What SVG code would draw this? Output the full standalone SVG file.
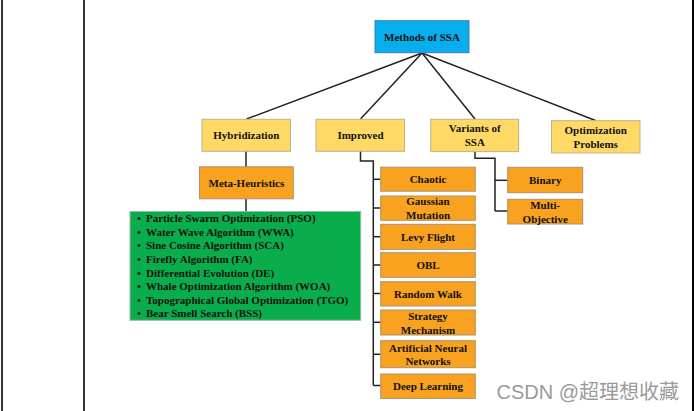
<svg xmlns="http://www.w3.org/2000/svg" width="694" height="411" viewBox="0 0 694 411">
<style>
.t{font-family:'Liberation Serif','Times New Roman',Tinos,'DejaVu Serif',serif;font-weight:bold;font-size:11px;fill:#111;}
.c{text-anchor:middle;}
.blue{fill:#08AEEB;stroke:#3A7FBF;stroke-width:1;}
.yel{fill:#FFD966;stroke:#BFB38A;stroke-width:1;}
.ora{fill:#F8A21F;stroke:#B09070;stroke-width:1;}
.grn{fill:#0AAD4C;stroke:#9AB8A0;stroke-width:1;}
.ln{fill:none;stroke:#222;stroke-width:1.5;}
.frame{stroke:#000;stroke-width:1.6;}
.wm{font-family:'Liberation Sans','Noto Sans CJK SC',sans-serif;font-weight:normal;font-size:20px;fill:#9a9a9a;text-anchor:end;}
</style>
<rect x="0" y="0" width="694" height="411" fill="#fff"/>
<g id="frame">
<line class="frame" x1="2" y1="0" x2="2" y2="411"/>
<line class="frame" x1="84" y1="0" x2="84" y2="411"/>
<line x1="693" y1="0" x2="693" y2="411" stroke="#000" stroke-width="2"/>
</g>
<g id="connectors">
<line class="ln" x1="422" y1="53" x2="246.5" y2="119"/>
<line class="ln" x1="422" y1="53" x2="360.5" y2="119"/>
<line class="ln" x1="422" y1="53" x2="475" y2="119"/>
<line class="ln" x1="422" y1="53" x2="595.5" y2="120.5"/>
<line class="ln" x1="246" y1="151" x2="246" y2="167"/>
<line class="ln" x1="246" y1="199" x2="246" y2="211.5"/>
<polyline class="ln" points="360.5,151 360.5,161 373.3,161 373.3,385.5"/>
<line class="ln" x1="373.3" y1="179.3" x2="380.7" y2="179.3"/>
<line class="ln" x1="373.3" y1="208" x2="380.7" y2="208"/>
<line class="ln" x1="373.3" y1="236.7" x2="380.7" y2="236.7"/>
<line class="ln" x1="373.3" y1="265" x2="380.7" y2="265"/>
<line class="ln" x1="373.3" y1="293.5" x2="380.7" y2="293.5"/>
<line class="ln" x1="373.3" y1="322.3" x2="380.7" y2="322.3"/>
<line class="ln" x1="373.3" y1="354.3" x2="380.7" y2="354.3"/>
<line class="ln" x1="373.3" y1="385.5" x2="380.7" y2="385.5"/>
<polyline class="ln" points="475,151.5 475,158.3 495,158.3 495,211"/>
<line class="ln" x1="495" y1="180.3" x2="507.7" y2="180.3"/>
<line class="ln" x1="495" y1="211" x2="507.7" y2="211"/>
</g>
<g class="t" font-family="Liberation Serif, serif" font-weight="bold">
<g id="methods">
<rect class="blue" x="375" y="20.7" width="94" height="32"/>
<text class="t c" x="422" y="40.5">Methods of SSA</text>
</g>
<g id="hybridization">
<rect class="yel" x="202" y="119.3" width="88.5" height="32"/>
<text class="t c" x="246.3" y="139.2">Hybridization</text>
</g>
<g id="improved">
<rect class="yel" x="316" y="119.3" width="88.5" height="32"/>
<text class="t c" x="360.5" y="139.2">Improved</text>
</g>
<g id="variants">
<rect class="yel" x="430.7" y="119.3" width="88" height="32.3"/>
<text class="t c" x="474.8" y="132.2">Variants of</text>
<text class="t c" x="474.8" y="146.2">SSA</text>
</g>
<g id="optimization">
<rect class="yel" x="551.5" y="120.7" width="88.5" height="32.3"/>
<text class="t c" x="595.7" y="133.9">Optimization</text>
<text class="t c" x="595.7" y="147.6">Problems</text>
</g>
<g id="metaheuristics">
<rect class="ora" x="199.5" y="166.8" width="93.8" height="32"/>
<text class="t c" x="246.4" y="186.9">Meta-Heuristics</text>
</g>
<g id="algorithms">
<rect class="grn" x="130" y="211.5" width="230.7" height="108.8"/>
<text class="t" x="137" y="222.2">•<tspan x="146">Particle Swarm Optimization (PSO)</tspan></text>
<text class="t" x="137" y="235.8">•<tspan x="146">Water Wave Algorithm (WWA)</tspan></text>
<text class="t" x="137" y="249.4">•<tspan x="146">Sine Cosine Algorithm (SCA)</tspan></text>
<text class="t" x="137" y="263">•<tspan x="146">Firefly Algorithm (FA)</tspan></text>
<text class="t" x="137" y="276.6">•<tspan x="146">Differential Evolution (DE)</tspan></text>
<text class="t" x="137" y="290.2">•<tspan x="146">Whale Optimization Algorithm (WOA)</tspan></text>
<text class="t" x="137" y="303.7">•<tspan x="146">Topographical Global Optimization (TGO)</tspan></text>
<text class="t" x="137" y="317.2">•<tspan x="146">Bear Smell Search (BSS)</tspan></text>
</g>
<g id="chaotic">
<rect class="ora" x="380.7" y="167.2" width="94.6" height="24"/>
<text class="t c" x="428" y="183.2">Chaotic</text>
</g>
<g id="gaussian">
<rect class="ora" x="380.7" y="196" width="94.6" height="24.3"/>
<text class="t c" x="428" y="204.9">Gaussian</text>
<text class="t c" x="428" y="218.6">Mutation</text>
</g>
<g id="levy">
<rect class="ora" x="380.7" y="224.3" width="94.6" height="25"/>
<text class="t c" x="428" y="240.9">Levy Flight</text>
</g>
<g id="obl">
<rect class="ora" x="380.7" y="252.7" width="94.6" height="24.6"/>
<text class="t c" x="428" y="269.2">OBL</text>
</g>
<g id="randomwalk">
<rect class="ora" x="380.7" y="281.7" width="94.6" height="24.3"/>
<text class="t c" x="428" y="297.6">Random Walk</text>
</g>
<g id="strategy">
<rect class="ora" x="380.7" y="310" width="94.6" height="25"/>
<text class="t c" x="428" y="319.9">Strategy</text>
<text class="t c" x="428" y="333.6">Mechanism</text>
</g>
<g id="ann">
<rect class="ora" x="380.7" y="340.7" width="94.6" height="27"/>
<text class="t c" x="428" y="351.6">Artificial Neural</text>
<text class="t c" x="428" y="365.2">Networks</text>
</g>
<g id="deeplearning">
<rect class="ora" x="380.7" y="374" width="94.6" height="24.4"/>
<text class="t c" x="428" y="390.2">Deep Learning</text>
</g>
<g id="binary">
<rect class="ora" x="507.7" y="167.3" width="75" height="25.4"/>
<text class="t c" x="545.2" y="184.2">Binary</text>
</g>
<g id="multiobjective">
<rect class="ora" x="507.7" y="199.3" width="75" height="24.7"/>
<text class="t c" x="545.2" y="208.9">Multi-</text>
<text class="t c" x="545.2" y="222.9">Objective</text>
</g>
</g>
<text class="wm" x="679" y="399">CSDN @超理想收藏</text>
</svg>
